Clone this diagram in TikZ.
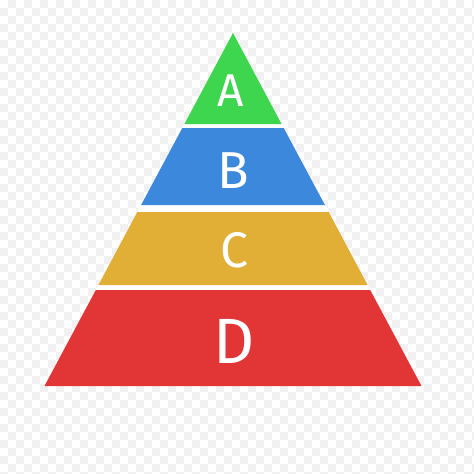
\documentclass[tikz,border=0pt]{standalone}
\usepackage{fontspec}
\setmainfont{Fira Sans}
\definecolor{lgreen}{HTML}{3ED64F}
\definecolor{lblue}{HTML}{3B88DD}
\definecolor{lyellow}{HTML}{E1AE36}
\definecolor{lred}{HTML}{E13536}
\definecolor{checkgray}{HTML}{F1F1F1}
\begin{document}
\begin{tikzpicture}[x=1pt,y=-1pt,
  letter/.style={text=white,inner sep=0pt,font=\fontsize{#1}{#1}\selectfont}]
\useasboundingbox (0,0) rectangle (474,474);
\fill[white] (0,0) rectangle (474,474);
\begin{scope}
\clip (0,0) rectangle (474,474);
\foreach \i in {0,...,59}{
  \foreach \j in {0,...,59}{
    \pgfmathtruncatemacro{\chk}{mod(\i+\j,2)}
    \ifnum\chk=1
      \fill[checkgray] (\i*8,\j*8) rectangle ++(8,8);
    \fi
  }
}
\end{scope}
% white backing
\fill[white] (233,33) -- (421.5,386) -- (44.5,386) -- cycle;
% layers
\fill[lgreen] (233,33) -- (281.6,124) -- (184.4,124) -- cycle;
\fill[lblue] (182.3,128) -- (283.7,128) -- (324.9,205) -- (141.1,205) -- cycle;
\fill[lyellow] (137.3,212) -- (328.7,212) -- (367.6,285) -- (98.4,285) -- cycle;
\fill[lred] (95.8,290) -- (370.2,290) -- (421.5,386) -- (44.5,386) -- cycle;
% letters
\node[letter=46] (a) at (231,91) {A};
\node[letter=52] (b) at (233,171) {B};
\node[letter=50] (c) at (234,250) {C};
\node[letter=64] (d) at (234,341) {D};
\end{tikzpicture}
\end{document}
